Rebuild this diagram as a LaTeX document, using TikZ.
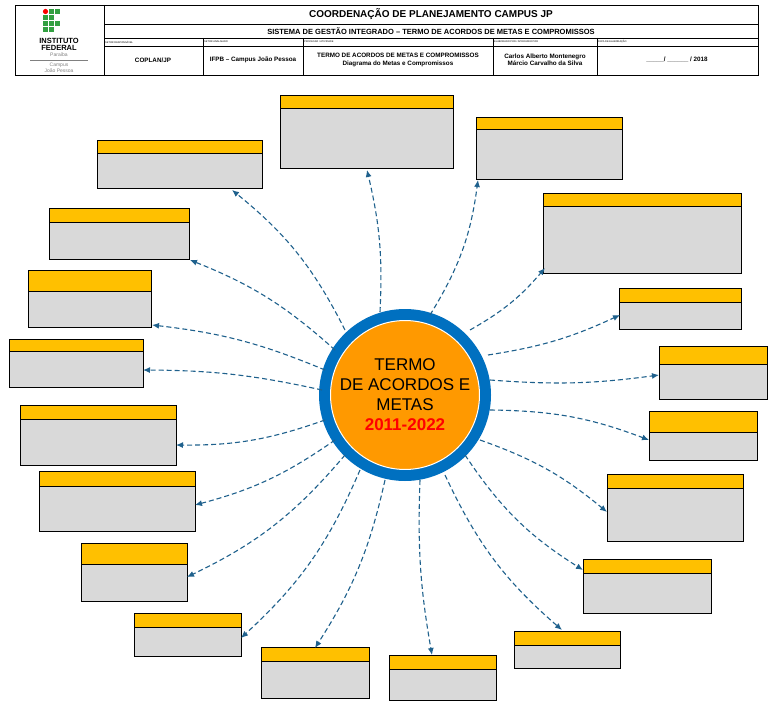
\documentclass[tikz,border=0pt]{standalone}
\usepackage{fontspec}
\setmainfont{Liberation Sans}
\usetikzlibrary{arrows.meta}
\definecolor{hy}{RGB}{255,192,0}
\definecolor{bg}{RGB}{217,217,217}
\definecolor{cb}{RGB}{0,112,192}
\definecolor{co}{RGB}{255,153,0}
\definecolor{ar}{RGB}{31,97,141}
\definecolor{ifg}{RGB}{50,160,65}
\tikzset{
 cell/.style={draw,line width=0.5pt},
 lab/.style={font=\fontsize{2.5}{3}\selectfont,anchor=west,inner sep=1pt},
 val/.style={font=\fontsize{6.3}{7.5}\selectfont\bfseries,align=center},
 body/.style={draw=black,fill=bg,line width=0.6pt,anchor=north west,inner sep=0pt},
 head/.style={draw=black,fill=hy,line width=0.6pt,anchor=north west,inner sep=0pt},
 conn/.style={draw=ar,dashed,dash pattern=on 5pt off 3pt,line width=1.1pt,-{Latex[length=7pt,width=6pt]}}
}
\begin{document}
\begin{tikzpicture}[x=1pt,y=-1pt]
\useasboundingbox (0,0) rectangle (768,711);
\fill[white] (0,0) rectangle (768,711);
% header
\draw[cell] (15,5) rectangle (758,75);
\draw[cell] (104,5) -- (104,75);
\draw[cell] (104,24) -- (758,24);
\draw[cell] (104,38) -- (758,38);
\draw[cell] (104,46) -- (758,46);
\foreach \x in {203,303,493,597} \draw[cell] (\x,38) -- (\x,75);
\node[font=\fontsize{10}{11}\selectfont\bfseries] (t1) at (431,14.5) {COORDENAÇÃO DE PLANEJAMENTO CAMPUS JP};
\node[font=\fontsize{7.5}{8}\selectfont\bfseries] (t2) at (431,31) {SISTEMA DE GESTÃO INTEGRADO – TERMO DE ACORDOS DE METAS E COMPROMISSOS};
\node[lab] (l1) at (104,42) {SETOR RESPONSÁVEL};
\node[lab] (l2) at (203,42) {SETOR ANALISADO};
\node[lab] (l3) at (303,42) {PROCESSO / ATIVIDADE};
\node[lab] (l4) at (493,42) {ELABORADO POR / APROVADO POR};
\node[lab] (l5) at (597,42) {DATA DE ELABORAÇÃO};
\node[val] (v1) at (153,60) {COPLAN/JP};
\node[val] (v2) at (253,60) {IFPB – Campus João Pessoa};
\node[val] (v3) at (398,60) {TERMO DE ACORDOS DE METAS E COMPROMISSOS\\Diagrama do Metas e Compromissos};
\node[val] (v4) at (545,60) {Carlos Alberto Montenegro\\Márcio Carvalho da Silva};
\node[val] (v5) at (677,60) {\_\_\_\_\_/ \_\_\_\_\_\_ / 2018};
% logo
\fill[red] (45.5,11.5) circle (2.6);
\foreach \x/\y in {49/9,55/9,43/15,49/15,43/21,49/21,55/21,43/27,49/27}
  \fill[ifg] (\x,\y) rectangle ++(5,5);
\node[font=\fontsize{7.5}{7}\selectfont\bfseries,align=center,inner sep=0pt] (lg1) at (59,44) {INSTITUTO\\FEDERAL};
\node[font=\fontsize{5}{5}\selectfont,text=gray,inner sep=0pt] (lg2) at (59,55) {Paraíba};
\draw[gray,line width=0.3pt] (30,60) -- (88,60);
\node[font=\fontsize{5}{6}\selectfont,text=gray,align=center,inner sep=0pt] (lg3) at (59,67.5) {Campus\\João Pessoa};
% boxes
\foreach \i/\xa/\ya/\xb/\yb/\hh in {
 1/280/95/453/168/108, 2/97/140/262/188/153, 3/476/117/622/179/129,
 4/49/208/189/259/222, 5/543/193/741/273/206, 6/28/270/151/327/291,
 7/619/288/741/329/302, 8/9/339/143/387/351, 9/659/346/767/399/364,
 10/20/405/176/465/419, 11/649/411/757/460/432, 12/39/471/195/531/486,
 13/607/474/743/541/488, 14/81/543/187/601/564, 15/583/559/711/613/573,
 16/134/613/241/656/627, 17/514/631/620/668/645, 18/261/647/369/698/661,
 19/389/655/496/700/669}{
 \node[body,minimum width={(\xb-\xa)*1pt},minimum height={(\yb-\ya)*1pt}] (b\i) at (\xa,\ya) {};
 \node[head,minimum width={(\xb-\xa)*1pt},minimum height={(\hh-\ya)*1pt}] (h\i) at (\xa,\ya) {};
}
% circle
\node[circle,fill=cb,minimum size=172pt,inner sep=0pt] (c) at (405,395) {};
\node[circle,fill=co,draw=white,line width=1pt,minimum size=142pt,inner sep=0pt,align=center,
 font=\fontsize{17}{20}\selectfont] (ci) at (405,395) {TERMO\\DE ACORDOS E\\METAS\\{\color{red}\bfseries 2011-2022}};
% connectors
\foreach \i/\sx/\sy/\ex/\ey/\bb in {
 1/380/312/367/170/-8, 3/430/315/478/180/-12, 2/345/330/232/190/-12,
 4/335/350/190/260/-10, 5/470/330/545/268/-10, 6/325/370/152/325/-8,
 7/488/355/620/315/-8, 8/322/390/143/370/-6, 9/490/380/659/375/-6,
 10/325/420/176/445/10, 11/490/410/649/440/10, 12/335/440/195/505/10,
 13/480/440/607/512/10, 14/345/455/187/577/12, 15/465/455/583/570/-12,
 16/360/470/241/638/12, 17/445/475/562/630/-12, 18/385/480/315/648/10,
 19/420/480/432/655/-6}{
 \coordinate (s\i) at (\sx,\sy);
 \coordinate (e\i) at (\ex,\ey);
 \draw[conn] (s\i) to[bend left=\bb] (e\i);
}
\end{tikzpicture}
\end{document}
